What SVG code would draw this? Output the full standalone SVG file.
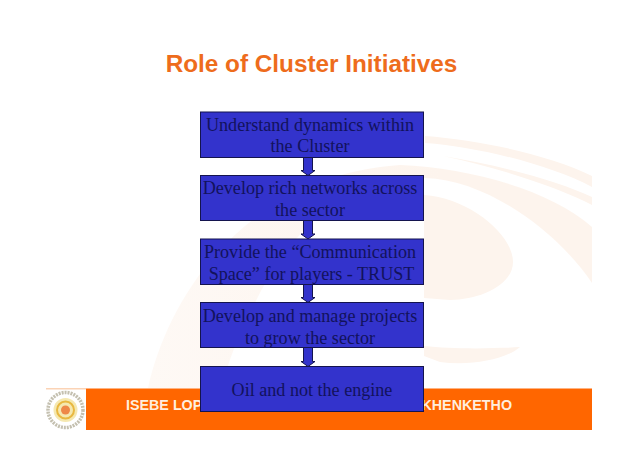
<svg xmlns="http://www.w3.org/2000/svg" width="638" height="451" viewBox="0 0 638 451">
<defs>
<linearGradient id="arc" gradientUnits="userSpaceOnUse" x1="148" y1="0" x2="440" y2="0"><stop offset="0" stop-color="#fef9f5"/><stop offset="1" stop-color="#fdf4ed"/></linearGradient>
</defs>
<style>
.box{fill:#3333cc;stroke:#14144e;stroke-width:1}
.lbl{font-family:"Liberation Serif","Times New Roman",serif;font-size:18.1px;fill:#12125c;text-anchor:middle}
.arr{fill:#3333cc;stroke:#14144e;stroke-width:1}
.foot{font-family:"Liberation Sans",Arial,sans-serif;font-size:14.3px;font-weight:bold;fill:#ffeedd}
.sw{fill:#fdf4ed}
</style>
<rect width="638" height="451" fill="#fff"/>
<g id="background">
<path class="sw" d="M425 136C480 140 550 155 592 176L592 187C550 165 480 147 425 143Z"/>
<path class="sw" d="M443 156C500 165 560 182 592 197L592 205C560 188 500 168 443 156Z"/>
<path fill="url(#arc)" d="M400 165C470 168 550 190 592 227L592 283C560 235 490 180 425 178C340 175 280 240 245 325C232 350 226 370 222 388L148 388C170 290 250 175 400 165Z"/>
<path class="sw" d="M424 195C470 198 513 235 513 262C513 285 480 300 450 300L424 298Z"/>
<path class="sw" d="M424 346C450 349 490 349 520 347C505 360 470 366 440 362L424 356Z"/>
</g>
<g id="footer">
<rect x="46" y="388" width="40" height="1.500" fill="#fbd3b5"/>
<rect x="86" y="388.500" width="506" height="41.500" fill="#ff6600"/>
<text class="foot" x="126" y="410">ISEBE LOP</text>
<text class="foot" x="512" y="410" text-anchor="end">OKHENKETHO</text>
</g>
<g id="logo">
<circle cx="65.500" cy="410" r="17.500" fill="none" stroke="#c4c0b0" stroke-width="3.500" stroke-dasharray="2 1"/>
<circle cx="65.500" cy="410" r="12" fill="#f5e8b0"/>
<circle cx="65.500" cy="410" r="8.500" fill="none" stroke="#e8b840" stroke-width="2"/>
<circle cx="65.500" cy="410" r="4.500" fill="#ee8848"/>
</g>
<text id="title" x="311.500" y="72" text-anchor="middle" font-family="'Liberation Sans',Arial,sans-serif" font-size="24.3" font-weight="bold" fill="#ee6c1c">Role of Cluster Initiatives</text>
<g id="connectors">
<path class="arr" d="M303.500 157.500H312.500V170.500H315L308 175.500L301 170.500H303.500Z"/>
<path class="arr" d="M303.500 220.500H312.500V234H315L308 239L301 234H303.500Z"/>
<path class="arr" d="M303.500 284.500H312.500V297.500H315L308 302.500L301 297.500H303.500Z"/>
<path class="arr" d="M303.500 347.500H312.500V361.500H315L308 366.500L301 361.500H303.500Z"/>
</g>
<g id="n1"><rect class="box" x="200.500" y="112" width="223" height="45.500"/><text class="lbl" x="310" y="130.500">Understand dynamics within</text><text class="lbl" x="310" y="152">the Cluster</text></g>
<g id="n2"><rect class="box" x="200.500" y="175.500" width="223" height="45"/><text class="lbl" x="310" y="194">Develop rich networks across</text><text class="lbl" x="310" y="216">the sector</text></g>
<g id="n3"><rect class="box" x="200.500" y="239" width="223" height="45.500"/><text class="lbl" x="310" y="258">Provide the “Communication</text><text class="lbl" x="311.500" y="279.500">Space” for players - TRUST</text></g>
<g id="n4"><rect class="box" x="200.500" y="302.500" width="223" height="45"/><text class="lbl" x="310" y="322">Develop and manage projects</text><text class="lbl" x="310" y="343.500">to grow the sector</text></g>
<g id="n5"><rect class="box" x="200.500" y="366.500" width="223" height="45"/><text class="lbl" x="312" y="395.500">Oil and not the engine</text></g>
</svg>
